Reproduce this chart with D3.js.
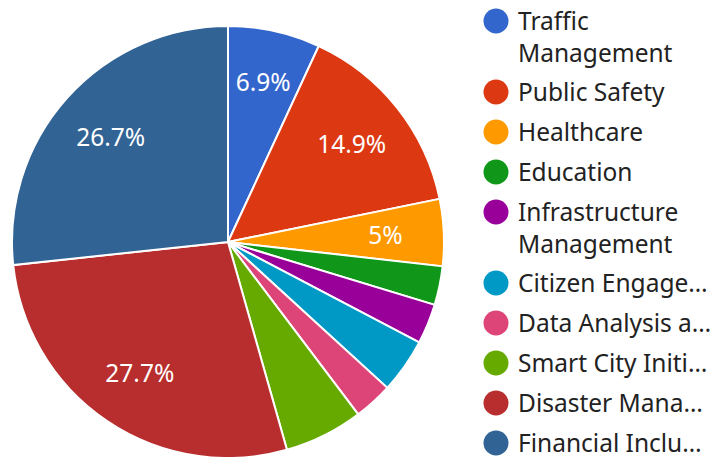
<!DOCTYPE html>
<html>
<head>
<meta charset="utf-8">
<script src="https://cdn.jsdelivr.net/npm/d3@7"></script>
<style>
  body { margin: 0; background: #fff; }
  svg { display: block; font-family: "Noto Sans", sans-serif; }
</style>
</head>
<body>
<div class="chart"></div>
<script>
// slice names, shares (percent) and colours
var categories = ["Traffic Management", "Public Safety", "Healthcare", "Education",
  "Infrastructure Management", "Citizen Engagement", "Data Analysis and Reporting",
  "Smart City Initiatives", "Disaster Management", "Financial Inclusion"];
var values = [6.9, 14.9, 5.0, 2.9, 3.0, 4.1, 2.9, 5.9, 27.7, 26.7];
var colors = ["#3366cc", "#dc3912", "#ff9900", "#109618", "#990099",
  "#0099c6", "#dd4477", "#66aa00", "#b82e2e", "#316395"];

var width = 712, height = 457;
var cx = 228, cy = 242, radius = 216;
var fontSize = 24.5;

var svg = d3.select(".chart")
  .append("svg")
  .attr("width", width)
  .attr("height", height);

var data = categories.map((c, i) => ({ name: c, value: values[i], color: colors[i] }));
var total = d3.sum(values);

var pie = d3.pie().sort(null).value(d => d.value);
var arc = d3.arc().innerRadius(0).outerRadius(radius);
var arcs = pie(data);

var g = svg.append("g").attr("transform", `translate(${cx},${cy})`);

// slices
g.selectAll("path")
  .data(arcs)
  .join("path")
  .attr("d", arc)
  .attr("fill", d => d.data.color)
  .attr("stroke", "#fff")
  .attr("stroke-width", 2);

// percent labels, only where the text box fits inside the slice
var fmt = v => (Math.round(v * 10) / 10) + "%";

function fits(d, r, w, h) {
  var mid = (d.startAngle + d.endAngle) / 2;
  var x = Math.sin(mid) * r, y = -Math.cos(mid) * r;
  var corners = [[x - w / 2, y - h / 2], [x + w / 2, y - h / 2], [x - w / 2, y + h / 2], [x + w / 2, y + h / 2]];
  return corners.every(p => {
    if (Math.hypot(p[0], p[1]) > radius) return false;
    var a = Math.atan2(p[0], -p[1]);
    if (a < 0) a += 2 * Math.PI;
    return a >= d.startAngle && a <= d.endAngle;
  });
}

g.selectAll("text.pct")
  .data(arcs)
  .join("text")
  .attr("class", "pct")
  .attr("text-anchor", "middle")
  .attr("fill", "#fff")
  .style("font-size", fontSize + "px")
  .text(d => fmt(d.data.value / total * 100))
  .each(function(d) {
    var t = d3.select(this);
    var w = this.getComputedTextLength() + 8, h = 30;
    var pos = null;
    for (var r = radius * 0.73; r < radius; r += 2) {
      if (fits(d, r, w, h)) { pos = r; break; }
    }
    if (pos === null) { t.remove(); return; }
    var mid = (d.startAngle + d.endAngle) / 2;
    t.attr("x", Math.sin(mid) * pos)
      .attr("y", -Math.cos(mid) * pos + 9);
  });

// legend
var legendX = 496, textX = 518, maxText = width - textX;
var rowGap = 40, lineH = 32, maxWrapped = 2;
var legend = svg.append("g");
var y = 21, wrapped = 0;

data.forEach(d => {
  legend.append("circle")
    .attr("cx", legendX)
    .attr("cy", y)
    .attr("r", 12.5)
    .attr("fill", d.color);

  var t = legend.append("text")
    .attr("x", textX)
    .attr("y", y + 8.5)
    .attr("fill", "#222")
    .style("font-size", fontSize + "px")
    .text(d.name);

  var lines = 1;
  if (t.node().getComputedTextLength() > maxText) {
    var words = d.name.split(" ");
    if (wrapped < maxWrapped && words.length > 1) {
      wrapped++;
      lines = 2;
      t.text(words[0]);
      t.append("tspan")
        .attr("x", textX)
        .attr("dy", lineH)
        .text(words.slice(1).join(" "));
    } else {
      var s = d.name;
      while (s.length > 1) {
        s = s.slice(0, -1);
        t.text(s.trimEnd() + "…");
        if (t.node().getComputedTextLength() <= maxText) break;
      }
    }
  }
  y += rowGap + (lines - 1) * (lineH - 1);
});
</script>
</body>
</html>
